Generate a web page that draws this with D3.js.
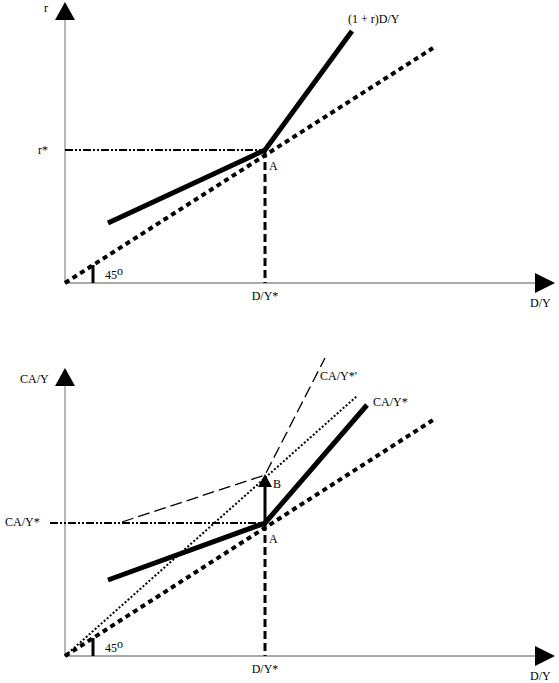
<!DOCTYPE html>
<html><head><meta charset="utf-8">
<script src="https://cdn.jsdelivr.net/npm/d3@7"></script>
<style>body{margin:0;background:#fff}text{font-family:"Liberation Serif",serif;font-size:12px;fill:#000}</style>
</head><body><svg id="chart" width="559" height="683"></svg>
<script>
// data in diagram units (origin = axes corner, y up)
const pointA = [200, 133];
const topSolid = [[43, 60], [200, 133], [287, 252]];
const topDiag = [[0, 0], [368, 235]];
const botSolid = [[43, 76], [200, 133], [302, 251]];
const botDiag = [[0, 0], [368, 236]];
const botFine = [[0, 0], [292, 260]];
const pointB = [200, 181];
const botDashed = [[57, 134], [200, 181], [260, 298]];

const svg = d3.select("#chart");
const line = (x, y) => d3.line().x(d => x(d[0])).y(d => y(d[1]));

function panel(oy, topY, yLabel, yLabelPos, yStar, yStarPos, yStarStart) {
  const x = d3.scaleLinear().domain([0, 490]).range([65, 555]);
  const y = d3.scaleLinear().domain([0, 283]).range([oy, oy - 283]);
  const g = svg.append("g");
  // axes
  g.append("line").attr("x1", x(0)).attr("x2", x(0)).attr("y1", topY + 16).attr("y2", y(0))
    .attr("stroke", "#888").attr("stroke-width", 1.2);
  g.append("line").attr("x1", x(0)).attr("x2", 540).attr("y1", y(0)).attr("y2", y(0))
    .attr("stroke", "#555").attr("stroke-width", 1);
  g.append("path").attr("d", `M${x(0)-10},${topY+18}L${x(0)},${topY}L${x(0)+10},${topY+18}Z`);
  g.append("path").attr("d", `M535,${y(0)-10}L555,${y(0)}L535,${y(0)+10}Z`);
  // guides
  g.append("line").attr("x1", yStarStart).attr("x2", x(pointA[0])).attr("y1", y(pointA[1])).attr("y2", y(pointA[1]))
    .attr("stroke", "#000").attr("stroke-width", 2).attr("stroke-dasharray", "8,2,2,2,2,2");
  g.append("line").attr("x1", x(pointA[0])).attr("x2", x(pointA[0])).attr("y1", y(pointA[1])).attr("y2", y(0))
    .attr("stroke", "#000").attr("stroke-width", 3).attr("stroke-dasharray", "8,4");
  g.append("line").attr("x1", x(28)).attr("x2", x(28)).attr("y1", y(0)).attr("y2", y(18))
    .attr("stroke", "#000").attr("stroke-width", 3);
  g.append("text").attr("x", x(40)).attr("y", y(4)).text("45").append("tspan").attr("dy", -4).text("o");
  g.append("text").attr("x", x(pointA[0])).attr("y", y(0) + 17).attr("text-anchor", "middle").text("D/Y*");
  g.append("text").attr("x", 530).attr("y", y(0) + 24).text("D/Y");
  g.append("text").attr("x", yLabelPos[0]).attr("y", yLabelPos[1]).text(yLabel);
  g.append("text").attr("x", yStarPos[0]).attr("y", yStarPos[1]).text(yStar);
  g.append("text").attr("x", x(pointA[0]) + 4).attr("y", y(pointA[1]) + 20).text("A");
  return {g, x, y};
}

// top panel
const t = panel(283, 2, "r", [44, 12], "r*", [38, 154], 65);
t.g.append("path").datum(topDiag).attr("d", line(t.x, t.y)).attr("fill", "none")
  .attr("stroke", "#000").attr("stroke-width", 4).attr("stroke-dasharray", "5,4");
t.g.append("path").datum(topSolid).attr("d", line(t.x, t.y)).attr("fill", "none")
  .attr("stroke", "#000").attr("stroke-width", 5);
t.g.append("text").attr("x", 348).attr("y", 23).text("(1 + r)D/Y");

// bottom panel
const b = panel(656, 368, "CA/Y", [20, 383], "CA/Y*", [5, 526], 50);
b.g.append("path").datum(botFine).attr("d", line(b.x, b.y)).attr("fill", "none")
  .attr("stroke", "#000").attr("stroke-width", 2).attr("stroke-dasharray", "2,2");
b.g.append("path").datum(botDiag).attr("d", line(b.x, b.y)).attr("fill", "none")
  .attr("stroke", "#000").attr("stroke-width", 4).attr("stroke-dasharray", "5,4");
b.g.append("path").datum(botDashed).attr("d", line(b.x, b.y)).attr("fill", "none")
  .attr("stroke", "#000").attr("stroke-width", 1.3).attr("stroke-dasharray", "12,5");
b.g.append("path").datum(botSolid).attr("d", line(b.x, b.y)).attr("fill", "none")
  .attr("stroke", "#000").attr("stroke-width", 5);
b.g.append("line").attr("x1", b.x(pointA[0])).attr("x2", b.x(pointA[0]))
  .attr("y1", b.y(pointA[1])).attr("y2", b.y(pointB[1]) + 10).attr("stroke", "#000").attr("stroke-width", 3);
b.g.append("path").attr("d", `M${b.x(pointB[0])-7},${b.y(pointB[1])+12}L${b.x(pointB[0])},${b.y(pointB[1])-1}L${b.x(pointB[0])+7},${b.y(pointB[1])+12}Z`);
b.g.append("text").attr("x", b.x(pointB[0]) + 8).attr("y", b.y(pointB[1]) + 13).text("B");
b.g.append("text").attr("x", 320).attr("y", 380).text("CA/Y*'");
b.g.append("text").attr("x", 373).attr("y", 406).text("CA/Y*");
</script></body></html>
